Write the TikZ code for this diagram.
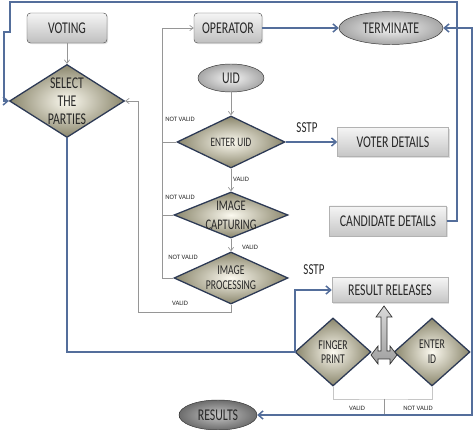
\documentclass[tikz,border=0pt]{standalone}
\usepackage{fontspec}
\setmainfont{Carlito}[FakeStretch=0.72]
\newfontfamily\labelfont{Carlito}
\usepackage{tikz}
\usetikzlibrary{positioning}
\usetikzlibrary{shapes.geometric}
\usetikzlibrary{arrows.meta}
\usetikzlibrary{shadows}
\definecolor{flowblue}{RGB}{84,110,155}
\definecolor{linegray}{RGB}{150,150,150}
\definecolor{dmdedge}{RGB}{45,58,85}
\definecolor{dmdouter}{RGB}{138,134,108}
\definecolor{dmdinner}{RGB}{252,250,240}
\definecolor{txtgray}{RGB}{40,40,40}

\begin{document}
\begin{tikzpicture}[x=0.03cm, y=-0.03cm,
  roundbox/.style={draw=gray!65!black, rounded corners=3pt, top color=gray!8, bottom color=gray!50,
    inner sep=0pt, text=txtgray, font=\fontsize{14}{16}\selectfont,
    drop shadow={opacity=0.25, shadow xshift=1pt, shadow yshift=-1pt}},
  squarebox/.style={draw=gray!60, top color=gray!8, bottom color=gray!45,
    inner sep=0pt, text=txtgray, font=\fontsize{14}{16}\selectfont,
    drop shadow={opacity=0.25, shadow xshift=1pt, shadow yshift=-1pt}},
  decision/.style={diamond, draw=dmdedge, line width=1.1pt, shading=radial,
    inner color=dmdinner, outer color=dmdouter, inner sep=-8pt, align=center,
    text=txtgray, font=\fontsize{14}{15.5}\selectfont},
  ovalnode/.style={ellipse, draw=gray!40!black, shading=radial, inner color=gray!8,
    outer color=gray!70, inner sep=0pt, text=txtgray, font=\fontsize{14}{16}\selectfont},
  lbl/.style={inner sep=0pt, text=txtgray, font=\labelfont\fontsize{5.7}{6}\selectfont},
  sstp/.style={inner sep=0pt, text=txtgray, font=\fontsize{13}{14}\selectfont},
  thinarrow/.style={draw=linegray, line width=0.6pt, -{Straight Barb[length=3pt,width=4.5pt]}},
  thinline/.style={draw=linegray, line width=0.6pt},
  flowarrow/.style={draw=flowblue, line width=1.3pt, -{Straight Barb[length=4pt,width=7pt]}},
  flowline/.style={draw=flowblue, line width=1.3pt}]

\useasboundingbox (0,0) rectangle (474,430);

% boxes and ovals
{
\node[roundbox, minimum width=2.4cm, minimum height=0.9cm] (voting) at (67,28) {VOTING};
\node[roundbox, minimum width=2.04cm, minimum height=0.9cm] (operator) at (228,28) {OPERATOR};
\node[ovalnode, minimum width=3.12cm, minimum height=0.99cm] (terminate) at (391,28) {TERMINATE};
\node[ovalnode, minimum width=1.98cm, minimum height=0.84cm] (uid) at (231,78) {UID};

\node[squarebox, minimum width=3.33cm, minimum height=0.87cm] (voter) at (393,142) {VOTER DETAILS};
\node[squarebox, minimum width=3.51cm, minimum height=0.9cm] (candidate) at (388,221) {CANDIDATE DETAILS};
\node[squarebox, minimum width=3.48cm, minimum height=0.75cm] (result) at (390,290) {RESULT RELEASES};

\node[ovalnode, inner color=gray!45, outer color=gray!85!black, minimum width=2.34cm, minimum height=0.9cm] (results) at (218,415) {RESULTS};
}

% diamonds
{
\node[decision, minimum width=3.45cm, minimum height=2.19cm] (select) at (67,101) {SELECT\\THE\\PARTIES};
\node[decision, minimum width=3.24cm, minimum height=1.56cm, font=\fontsize{11}{12}\selectfont] (enteruid) at (231,142) {ENTER UID};
\node[decision, minimum width=3.42cm, minimum height=1.38cm, font=\fontsize{12.5}{16}\selectfont] (capture) at (231,215) {IMAGE\\CAPTURING};
\node[decision, minimum width=3.42cm, minimum height=1.56cm, font=\fontsize{11.5}{13}\selectfont] (process) at (231,278) {IMAGE\\PROCESSING};

\node[decision, minimum width=2.28cm, minimum height=2.04cm, font=\fontsize{11.5}{12.5}\selectfont] (fingerprint) at (333,352) {FINGER\\PRINT};
\node[decision, minimum width=2.28cm, minimum height=2.04cm, font=\fontsize{11.5}{12.5}\selectfont] (enterid) at (432,352) {ENTER\\ID};
}

% block arrow
\draw[gray!40!black, line width=0.6pt, top color=gray!30, bottom color=gray!75]
  (384,306)--(392,317)--(387,317)--(387,351)--(390,351)--(390,346)--(397,355)
  --(390,364)--(390,359)--(378,359)--(378,364)--(371,355)--(378,346)--(378,351)
  --(381,351)--(381,317)--(376,317)--cycle;

% turning points
{
\coordinate (nvbot) at (162,278);
\coordinate (vbot) at (138,312);
\coordinate (selbot) at (295,352);
\coordinate (topright) at (457,2);
\coordinate (topleft) at (10,2);
\coordinate (leftknee) at (10,32);
\coordinate (leftstep) at (4,32);
\coordinate (bracketmid) at (384,399);
\coordinate (split) at (384,415);
\coordinate (rightfoot) at (472,415);
}

% connectors
{
\draw[thinarrow] (voting) -- (select);
\draw[flowarrow] (operator) -- (terminate);
\draw[thinarrow] (uid) -- (enteruid);
\draw[flowarrow] (enteruid) -- (voter);
\draw[thinarrow] (enteruid) -- (capture);
\draw[thinarrow] (capture) -- (process);

\draw[thinarrow] (process.west) -- (nvbot) |- (operator.west);
\draw[thinline] (enteruid.west) -- (enteruid.west -| nvbot);
\draw[thinline] (capture.west) -- (capture.west -| nvbot);

\draw[thinarrow] (process.south) |- (vbot) |- (select.east);

\draw[flowarrow] (select.south) |- (selbot) |- (result.west);
\draw[flowarrow] (candidate.east) -| (topright) -- (topleft) -- (leftknee) -- (leftstep) |- (select.west);

\draw[draw=gray!45, line width=0.6pt] (fingerprint.south) |- (bracketmid) -| (enterid.south);
\draw[thinline] (bracketmid) -- (split);
\draw[flowarrow] (split) -- (results);
\draw[flowarrow] (split) -- (rightfoot) |- (terminate.east);
}

% labellings
{
\node[lbl] (nvuid) at (180,119) {NOT VALID};
\node[lbl] (nvcap) at (180,197) {NOT VALID};
\node[lbl] (nvproc) at (183,257) {NOT VALID};
\node[lbl] (vuid) at (241,179) {VALID};
\node[lbl] (vcap) at (250,247) {VALID};
\node[lbl] (vproc) at (180,303) {VALID};
\node[lbl] (vfinger) at (357,408) {VALID};
\node[lbl] (nvid) at (418,408) {NOT VALID};

\node[sstp] (sstpvoter) at (307,128) {SSTP};
\node[sstp] (sstpresult) at (314,270) {SSTP};
}

\end{tikzpicture}
\end{document}
